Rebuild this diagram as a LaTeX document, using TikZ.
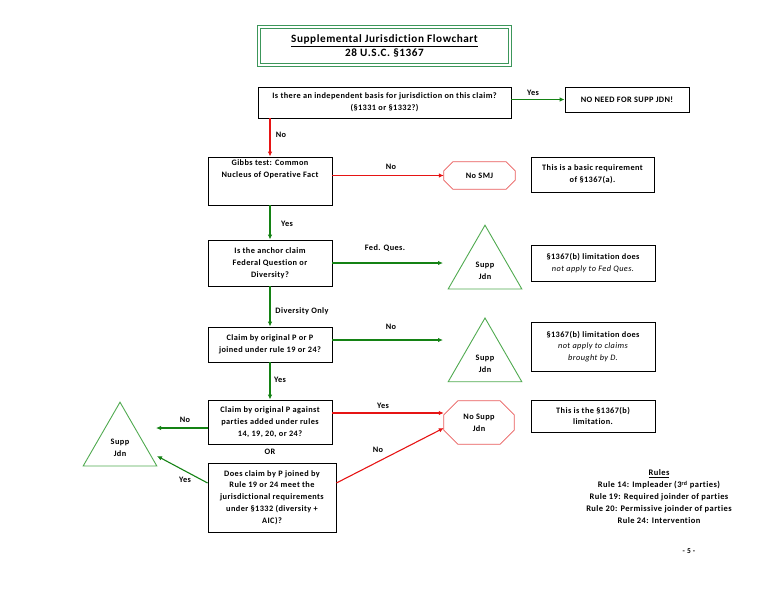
\documentclass[tikz,border=0pt]{standalone}
\usepackage{fontspec}
\setmainfont{Carlito}[LetterSpace=5, Ligatures=NoCommon]
\usetikzlibrary{arrows.meta,shapes.geometric}
\definecolor{agreen}{RGB}{20,130,20}
\definecolor{tgreen}{RGB}{80,170,80}
\definecolor{titgreen}{RGB}{60,150,90}
\definecolor{ared}{RGB}{230,20,20}
\definecolor{ored}{RGB}{232,90,90}
\newcommand\octagonat[2]{\draw[draw=ored,line width=0.8pt] ([xshift=#2]#1.north west) -- ([xshift=-#2]#1.north east) -- ([yshift=-#2]#1.north east) -- ([yshift=#2]#1.south east) -- ([xshift=-#2]#1.south east) -- ([xshift=#2]#1.south west) -- ([yshift=#2]#1.south west) -- ([yshift=-#2]#1.north west) -- cycle;}
\newcommand\tritext[1]{\makebox[0pt]{\smash{\raisebox{-5.5pt}{\parbox{34pt}{\centering #1}}}}}
\begin{document}
\begin{tikzpicture}[x=1pt,y=-1pt,
  every node/.style={font=\bfseries\fontsize{8.3}{11.8}\selectfont},
  box/.style={draw=black, line width=0.8pt, align=center, inner sep=0pt, rectangle},
  tri/.style={regular polygon, regular polygon sides=3, draw=tgreen, line width=0.9pt, minimum size=85pt, inner sep=0pt},
  oct/.style={align=center, inner sep=0pt},
  garr/.style={draw=agreen, line width=1.1pt, -{Latex[length=5pt,width=4.5pt]}},
  rarr/.style={draw=ared, line width=1.1pt, -{Latex[length=5pt,width=4.5pt]}},
  lab/.style={inner sep=1pt}]
\path[use as bounding box] (0,0) rectangle (768,594);

% title
\node[draw=titgreen, double=white, double distance=2.4pt, line width=0.7pt, minimum width=251pt, minimum height=38pt, align=center, inner sep=0pt,
  font=\bfseries\fontsize{11.2}{14}\selectfont] (title) at (384.5,46) {\underline{Supplemental Jurisdiction Flowchart}\\28 U.S.C. §1367};

% boxes
\node[box, minimum width=253pt, minimum height=31pt] (q1) at (384.5,102.5) {Is there an independent basis for jurisdiction on this claim?\\(§1331 or §1332?)};
\node[box, minimum width=124pt, minimum height=25pt] (nn) at (627,99.5) {NO NEED FOR SUPP JDN!};
\node[box, minimum width=124pt, minimum height=48pt] (gibbs) at (270,181) {\parbox[c][42pt][t]{118pt}{\centering Gibbs test: Common\\Nucleus of Operative Fact}};
\node[oct, minimum width=71pt, minimum height=27pt] (nosmj) at (479.5,175.5) {No SMJ};
\octagonat{nosmj}{9pt}
\node[box, minimum width=123pt, minimum height=35pt] (basic) at (592.5,174.5) {This is a basic requirement\\of §1367(a).};

\node[box, minimum width=124pt, minimum height=46pt] (anchor) at (270,263) {Is the anchor claim\\Federal Question or\\Diversity?};
\node[tri] (t1) at (485,267.7) {\tritext{Supp\\Jdn}};
\node[box, minimum width=124pt, minimum height=36pt] (fedq) at (593,263) {§1367(b) limitation does\\{\mdseries\itshape not apply to Fed Ques.}};

\node[box, minimum width=124pt, minimum height=35pt] (claimP) at (270,344.5) {Claim by original P or P\\joined under rule 19 or 24?};
\node[tri] (t2) at (485,360.5) {\tritext{Supp\\Jdn}};
\node[box, minimum width=124pt, minimum height=49pt] (dbox) at (593,346.5) {§1367(b) limitation does\\{\mdseries\itshape not apply to claims}\\{\mdseries\itshape brought by D.}};

\node[box, minimum width=124pt, minimum height=44pt] (claimA) at (270,422) {Claim by original P against\\parties added under rules\\14, 19, 20, or 24?};
\node[oct, minimum width=70pt, minimum height=43pt] (nosupp) at (479,422.5) {No Supp\\Jdn};
\octagonat{nosupp}{14pt}
\node[box, minimum width=124pt, minimum height=32pt] (lim) at (593,416) {\raisebox{2.5pt}{\parbox{118pt}{\centering This is the §1367(b)\\limitation.}}};

\node (or) at (270,452) {OR};
\node[box, minimum width=128pt, minimum height=69pt] (does) at (272,497.5) {Does claim by P joined by\\Rule 19 or 24 meet the\\jurisdictional requirements\\under §1332 (diversity +\\AIC)?};
\node[tri] (t3) at (120,444.7) {\tritext{Supp\\Jdn}};

% free ends
\coordinate (e1) at (443,263);
\coordinate (e2) at (443,340);
\coordinate (e3) at (156,428);
\coordinate (e4) at (157,456);

% connectors
\draw[garr] (q1.east|-nn.west) -- (nn.west);
\draw[rarr] (q1.south-|gibbs.north) -- (gibbs.north);
\draw[rarr] (gibbs.east|-nosmj.west) -- (nosmj.west);
\draw[garr] (gibbs.south) -- (anchor.north);
\draw[garr] (anchor.east|-e1) -- (e1);
\draw[garr] (anchor.south) -- (claimP.north);
\draw[garr] (claimP.east|-e2) -- (e2);
\draw[garr] (claimP.south) -- (claimA.north);
\draw[rarr, line width=1.8pt] ([yshift=9.5pt]claimA.east|-nosupp.west) -- ([yshift=9.5pt]nosupp.west);
\draw[rarr] ([yshift=14.5pt]does.east) -- ([yshift=-5.5pt]nosupp.west);
\draw[garr] (claimA.west|-e3) -- (e3);
\draw[garr] ([yshift=14.5pt]does.west) -- (e4);

% labels
\node[lab] (l1) at (533,93) {Yes};
\node[lab] (l2) at (281,135) {No};
\node[lab] (l3) at (391,167) {No};
\node[lab] (l4) at (287,224) {Yes};
\node[lab] (l5) at (385,248) {Fed. Ques.};
\node[lab] (l6) at (302,311) {Diversity Only};
\node[lab] (l7) at (391,327) {No};
\node[lab] (l8) at (280,380) {Yes};
\node[lab] (l9) at (383,406) {Yes};
\node[lab] (l10) at (185,420) {No};
\node[lab] (l11) at (378,450) {No};
\node[lab] (l12) at (185,480) {Yes};

% rules
\node[align=center, font=\bfseries\fontsize{8.5}{12}\selectfont] (rules) at (659,497) {\underline{Rules}\\Rule 14: Impleader (3\textsuperscript{rd} parties)\\Rule 19: Required joinder of parties\\Rule 20: Permissive joinder of parties\\Rule 24: Intervention};
\node[font=\bfseries\fontsize{7.5}{9}\selectfont] (page) at (689,551) {- 5 -};
\end{tikzpicture}
\end{document}
